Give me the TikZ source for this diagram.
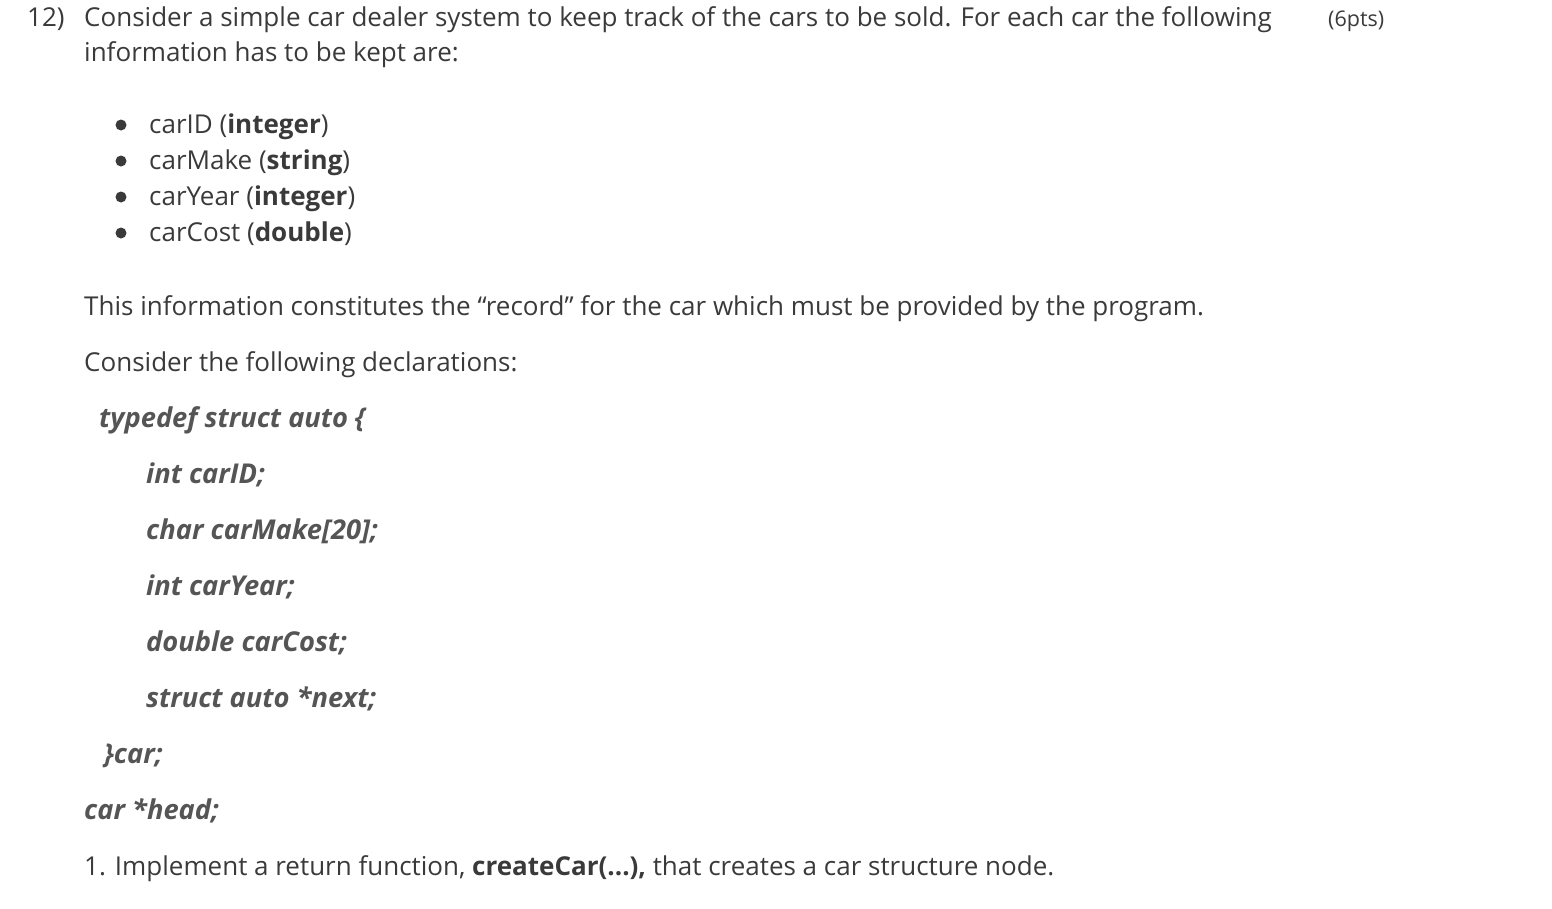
\documentclass[tikz,border=0pt]{standalone}
\usepackage{fontspec}
\setmainfont{Open Sans}
\definecolor{txt}{HTML}{3A3A3A}
\definecolor{code}{HTML}{555555}
\begin{document}
\begin{tikzpicture}[x=1pt,y=-1pt,
  t/.style={anchor=base west,inner sep=0pt,text=txt,font=\fontsize{26}{30}\selectfont},
  c/.style={t,text=code,font=\fontsize{27.3}{30}\selectfont\bfseries\itshape}]
\useasboundingbox (0,0) rectangle (1552,908);
\node[t] (num) at (27,26) {12)};
\node[t] (l1) at (84,26) {Consider a simple car dealer system to keep track of the cars to be sold. For each car the following};
\node[t] (pts) at (1328,26) {\fontsize{21.5}{24}\selectfont(6pts)};
\node[t] (l2) at (84,61) {information has to be kept are:};
\foreach \y/\n/\s [count=\i] in {133/carID/integer,169/carMake/string,205/carYear/integer,241/carCost/double}{
  \fill[txt] (121,\y-8) circle (5.5);
  \node[t] (b\i) at (149,\y) {\n\ (\textbf{\s})};
}
\node[t] (p1) at (84,315) {This information constitutes the “record” for the car which must be provided by the program.};
\node[t] (p2) at (84,371) {Consider the following declarations:};
\node[c] (c1) at (99,427) {typedef struct auto \{};
\node[c] (c2) at (146,483) {int carID;};
\node[c] (c3) at (146,539) {char carMake[20];};
\node[c] (c4) at (146,595) {int carYear;};
\node[c] (c5) at (146,651) {double carCost;};
\node[c] (c6) at (146,707) {struct auto *next;};
\node[c] (c7) at (104,763) {\}car;};
\node[c] (c8) at (84,819) {car *head;};
\node[t] (q1) at (84,875) {1. Implement a return function, \textbf{createCar(...),} that creates a car structure node.};
\end{tikzpicture}
\end{document}
